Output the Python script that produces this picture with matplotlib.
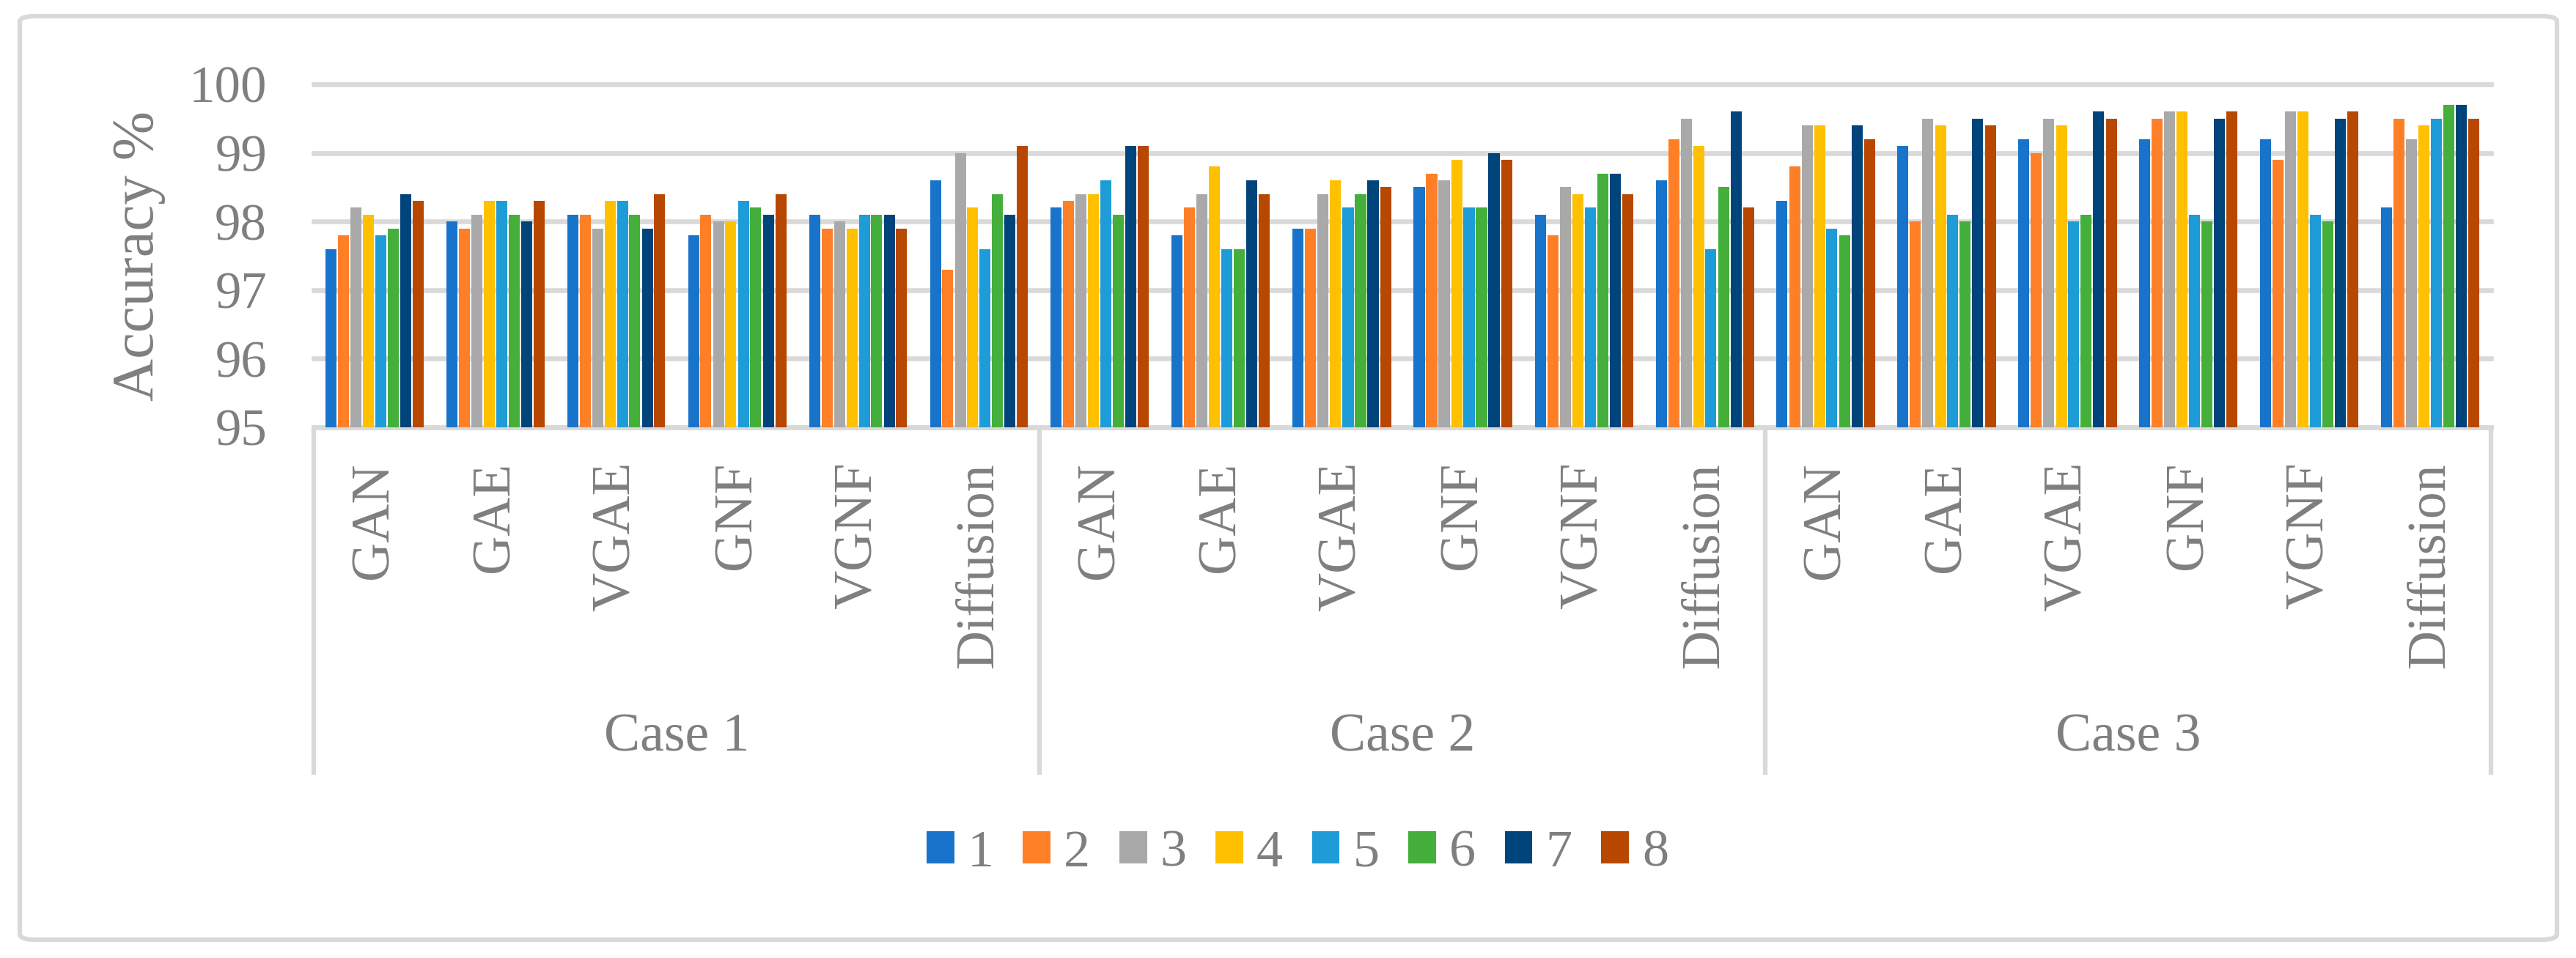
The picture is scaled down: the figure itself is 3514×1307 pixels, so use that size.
import matplotlib
matplotlib.use("Agg")
import matplotlib.pyplot as plt
from matplotlib.patches import Patch, FancyBboxPatch
import numpy as np

models = ["GAN", "GAE", "VGAE", "GNF", "VGNF", "Diffusion"]
cases = ["Case 1", "Case 2", "Case 3"]
series_names = ["1", "2", "3", "4", "5", "6", "7", "8"]

s1 = [97.6, 98.0, 98.1, 97.8, 98.1, 98.6, 98.2, 97.8, 97.9, 98.5, 98.1, 98.6, 98.3, 99.1, 99.2, 99.2, 99.2, 98.2]
s2 = [97.8, 97.9, 98.1, 98.1, 97.9, 97.3, 98.3, 98.2, 97.9, 98.7, 97.8, 99.2, 98.8, 98.0, 99.0, 99.5, 98.9, 99.5]
s3 = [98.2, 98.1, 97.9, 98.0, 98.0, 99.0, 98.4, 98.4, 98.4, 98.6, 98.5, 99.5, 99.4, 99.5, 99.5, 99.6, 99.6, 99.2]
s4 = [98.1, 98.3, 98.3, 98.0, 97.9, 98.2, 98.4, 98.8, 98.6, 98.9, 98.4, 99.1, 99.4, 99.4, 99.4, 99.6, 99.6, 99.4]
s5 = [97.8, 98.3, 98.3, 98.3, 98.1, 97.6, 98.6, 97.6, 98.2, 98.2, 98.2, 97.6, 97.9, 98.1, 98.0, 98.1, 98.1, 99.5]
s6 = [97.9, 98.1, 98.1, 98.2, 98.1, 98.4, 98.1, 97.6, 98.4, 98.2, 98.7, 98.5, 97.8, 98.0, 98.1, 98.0, 98.0, 99.7]
s7 = [98.4, 98.0, 97.9, 98.1, 98.1, 98.1, 99.1, 98.6, 98.6, 99.0, 98.7, 99.6, 99.4, 99.5, 99.6, 99.5, 99.5, 99.7]
s8 = [98.3, 98.3, 98.4, 98.4, 97.9, 99.1, 99.1, 98.4, 98.5, 98.9, 98.4, 98.2, 99.2, 99.4, 99.5, 99.6, 99.6, 99.5]
series = [s1, s2, s3, s4, s5, s6, s7, s8]

colors = ["#1874CB", "#FF7F27", "#A9A9A9", "#FFC000", "#1E9CD8", "#44AF3B", "#00447C", "#B84700"]

TXT = "#7F7F7F"
GRID = "#D9D9D9"
FONT = ["Liberation Serif", "DejaVu Serif"]
plt.rcParams["font.family"] = FONT

W, H = 3514, 1307
fig = plt.figure(figsize=(W / 100, H / 100), dpi=100)

# outer rounded border
border = FancyBboxPatch((27 / W, 1 - 1282 / H), (3488 - 27) / W, (1282 - 22) / H,
                        boxstyle="round,pad=0,rounding_size=0.006",
                        transform=fig.transFigure, fill=False, edgecolor=GRID,
                        linewidth=4.5, zorder=0)
fig.patches.append(border)

ax_l, ax_r, ax_t, ax_b = 428, 3398, 115, 583
ax = fig.add_axes([ax_l / W, 1 - ax_b / H, (ax_r - ax_l) / W, (ax_b - ax_t) / H])

n_groups = len(cases) * len(models)
x = np.arange(n_groups)
slot = 17 / 165
bw = 15 / 165
for j, (vals, c) in enumerate(zip(series, colors)):
    ax.bar(x + (j - 3.5) * slot, np.array(vals) - 95, bottom=95, width=bw,
           color=c, label=series_names[j], zorder=3)

ax.set_xlim(-0.5, n_groups - 0.5)
ax.set_ylim(95, 100)
ax.set_yticks([95, 96, 97, 98, 99, 100])
ax.set_yticklabels(["95", "96", "97", "98", "99", "100"])
ax.tick_params(axis="y", length=0, pad=46, labelsize=51, labelcolor=TXT)
ax.set_xticks([])
ax.yaxis.grid(True, color=GRID, linewidth=4.8)
for gl in ax.yaxis.get_gridlines():
    gl.set_clip_on(False)
ax.set_axisbelow(True)
for s in ["top", "left", "right"]:
    ax.spines[s].set_visible(False)
ax.spines["bottom"].set_color(GRID)
ax.spines["bottom"].set_linewidth(4.8)

# hierarchical category axis
trans = ax.get_xaxis_transform()
h_px = ax_b - ax_t
line_bottom = -(1057 - ax_b) / h_px
for b in [-0.5, 5.5, 11.5, 17.5]:
    ax.plot([b, b], [0, line_bottom], transform=trans, color=GRID,
            linewidth=4.5, clip_on=False, solid_capstyle="butt")

label_top = -(630 - ax_b) / h_px
for i in range(n_groups):
    ax.text(x[i], label_top, models[i % len(models)], transform=trans,
            rotation=90, ha="center", va="top", fontsize=53, color=TXT)

case_y = -(1007 - ax_b) / h_px
for k, cname in enumerate(cases):
    ax.text(k * 6 + 2.5, case_y, cname, transform=trans, ha="center",
            va="center", fontsize=53, color=TXT)

fig.text(190 / W, 1 - 349 / H, "Accuracy %", rotation=90, ha="center",
         va="center", fontsize=58, color=TXT)

handles = [Patch(facecolor=c, edgecolor="none") for c in colors]
leg = fig.legend(handles, series_names, loc="center", ncol=8,
                 bbox_to_anchor=(1770 / W, 1 - 1164 / H), frameon=False,
                 fontsize=52, handlelength=0.52, handleheight=0.55,
                 handletextpad=0.25, columnspacing=0.55)
for t in leg.get_texts():
    t.set_color(TXT)

fig.savefig("out.png", dpi=100, facecolor="white")
